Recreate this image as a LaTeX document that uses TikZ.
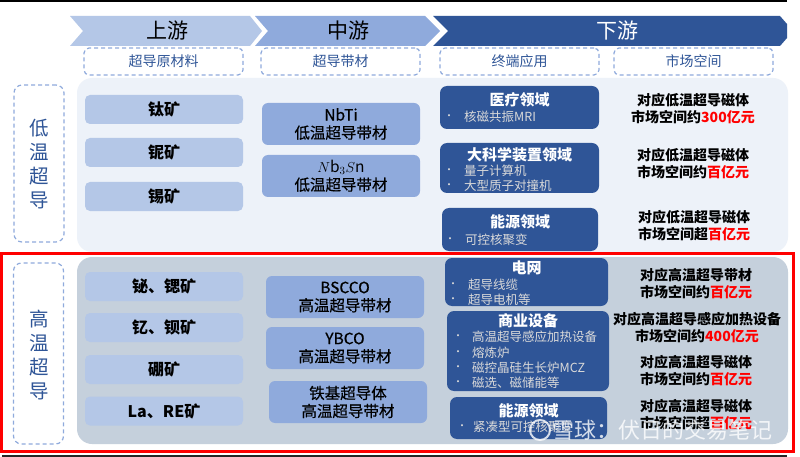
\documentclass[tikz,border=0pt]{standalone}
\usepackage{fontspec}
\setmainfont{Noto Sans CJK SC}
\newfontfamily\medfont[FakeBold=0.6]{Noto Sans CJK SC}
\definecolor{upc}{HTML}{B4C7E7}
\definecolor{midc}{HTML}{8FAADC}
\definecolor{dnc}{HTML}{2F5597}
\definecolor{lowbg}{HTML}{EDF2F9}
\definecolor{highbg}{HTML}{C5D0DC}
\definecolor{hdtext}{HTML}{2F5597}
\definecolor{bulc}{HTML}{D9D9D9}
\definecolor{redc}{HTML}{FF0000}
\tikzset{
 hdbox/.style={draw=midc, dash pattern=on 4pt off 3pt, line width=1.2pt, rounded corners=5pt, minimum width=159pt, minimum height=27pt, inner sep=0pt, font=\fontsize{14}{16}\selectfont, text=hdtext},
 sidebox/.style={draw=midc, dash pattern=on 4pt off 3pt, line width=1.2pt, rounded corners=8pt, minimum width=50pt, inner sep=0pt},
 sidetext/.style={align=center, text=hdtext, font=\fontsize{19.5}{24}\selectfont, inner sep=0pt},
 rawbox/.style={fill=upc, rounded corners=5pt, minimum width=158pt, minimum height=29pt, inner sep=0pt, font=\fontsize{16}{18}\selectfont\bfseries},
 midbox/.style={fill=midc, rounded corners=6pt, minimum width=158pt, minimum height=42pt, inner sep=0pt, align=center, font=\fontsize{15.5}{18}\selectfont\medfont},
 darkbox/.style={fill=dnc, rounded corners=7pt, inner sep=0pt},
 dtitle/.style={text=white, font=\fontsize{15}{17}\selectfont\bfseries, inner sep=0pt},
 dbul/.style={text=bulc, font=\fontsize{12.5}{14}\selectfont, inner sep=0pt, anchor=west},
 ddot/.style={text=bulc, font=\fontsize{10}{12}\selectfont, inner sep=0pt},
 mkt/.style={align=center, font=\fontsize{14}{17}\selectfont\bfseries, inner sep=0pt},
 chev/.style={font=\fontsize{21}{23}\selectfont, inner sep=0pt},
}
\newcommand{\rd}[1]{\textcolor{redc}{#1}}
\begin{document}
\begin{tikzpicture}[x=1pt,y=-1pt]
\useasboundingbox (0,0) rectangle (800,457);
\fill[white] (0,0) rectangle (800,457);
% top and bottom rules
\draw[line width=1.5pt, black] (0,0.8) -- (787,0.8);
\draw[line width=2pt, black!85] (2,455.8) -- (787,455.8);

% chevrons
\fill[upc] (70,16) -- (250,16) -- (262,31) -- (250,46) -- (70,46) -- (83,31) -- cycle;
\fill[midc] (255,16) -- (425,16) -- (440,31) -- (425,46) -- (255,46) -- (268,31) -- cycle;
\fill[dnc] (433,16) -- (780,16) -- (787,24) -- (787,38) -- (780,46) -- (433,46) -- (448,31) -- cycle;
\node[chev] (up) at (167,31) {上游};
\node[chev] (mid) at (348,31) {中游};
\node[chev, text=white] (dn) at (617,31) {下游};

% header dashed boxes
\node[hdbox] (h1) at (163.5,61.5) {超导原材料};
\node[hdbox] (h2) at (340.5,61.5) {超导带材};
\node[hdbox] (h3) at (519.5,61.5) {终端应用};
\node[hdbox] (h4) at (693.5,61.5) {市场空间};

% panels
\fill[lowbg, rounded corners=15pt] (77,78) rectangle (788,252);
\fill[highbg, rounded corners=15pt] (77,257) rectangle (788,444);

% side labels
\node[sidebox, minimum height=157pt] (sl) at (39,163.5) {};
\node[sidetext] (slt) at (39,164) {低\\温\\超\\导};
\node[sidebox, minimum height=181pt] (sh) at (38.5,353.5) {};
\node[sidetext] (sht) at (39,355) {高\\温\\超\\导};

% raw materials low
\node[rawbox] (r1) at (164,109.5) {钛矿};
\node[rawbox] (r2) at (164,152.5) {铌矿};
\node[rawbox] (r3) at (164,196.5) {锡矿};
% raw materials high
\node[rawbox] (r4) at (164,286.5) {铋、锶矿};
\node[rawbox] (r5) at (164,327.5) {钇、钡矿};
\node[rawbox] (r6) at (164,369.5) {硼矿};
\node[rawbox] (r7) at (164,411) {La、RE矿};

% middle low
\node[midbox] (m1) at (341,124) {NbTi\\低温超导带材};
\node[midbox] (m2) at (341,176) {$N\mathrm{b}_3S\mathrm{n}$\\低温超导带材};
% middle high
\node[midbox] (m3) at (345,297) {BSCCO\\高温超导带材};
\node[midbox] (m4) at (345,348) {YBCO\\高温超导带材};
\node[midbox] (m5) at (348,402) {铁基超导体\\高温超导带材};

% downstream dark boxes low
\node[darkbox, minimum width=159pt, minimum height=43pt] (d1) at (519.5,107.5) {};
\node[dtitle] (d1t) at (519.5,100) {医疗领域};
\node[ddot] (d1a) at (449,117) {•};
\node[dbul] (d1b) at (464,117) {核磁共振MRI};

\node[darkbox, minimum width=159pt, minimum height=50pt] (d2) at (519.5,168) {};
\node[dtitle] (d2t) at (519.5,155) {大科学装置领域};
\node[ddot] (d2a) at (449,171) {•};
\node[dbul] (d2b) at (464,171) {量子计算机};
\node[ddot] (d2c) at (449,186) {•};
\node[dbul] (d2d) at (464,186) {大型质子对撞机};

\node[darkbox, minimum width=156pt, minimum height=43pt] (d3) at (520,229.5) {};
\node[dtitle] (d3t) at (520,222) {能源领域};
\node[ddot] (d3a) at (450,240) {•};
\node[dbul] (d3b) at (465,240) {可控核聚变};

% downstream dark boxes high
\node[darkbox, minimum width=163pt, minimum height=48pt] (d4) at (526.5,282) {};
\node[dtitle] (d4t) at (526.5,268) {电网};
\node[ddot] (d4a) at (453,285) {•};
\node[dbul] (d4b) at (468,285) {超导线缆};
\node[ddot] (d4c) at (453,300) {•};
\node[dbul] (d4d) at (468,300) {超导电机等};

\node[darkbox, minimum width=162pt, minimum height=80pt] (d5) at (528,351) {};
\node[dtitle] (d5t) at (528,321) {商业设备};
\node[ddot] (d5a) at (458,337) {•};
\node[dbul] (d5b) at (472,337) {高温超导感应加热设备};
\node[ddot] (d5c) at (458,353) {•};
\node[dbul] (d5d) at (472,353) {熔炼炉};
\node[ddot] (d5e) at (458,368) {•};
\node[dbul] (d5f) at (472,368) {磁控晶硅生长炉MCZ};
\node[ddot] (d5g) at (458,383) {•};
\node[dbul] (d5h) at (472,383) {磁选、磁储能等};

\node[darkbox, minimum width=157pt, minimum height=42pt] (d6) at (528.5,418) {};
\node[dtitle] (d6t) at (528.5,411) {能源领域};
\node[ddot] (d6a) at (462,427) {•};
\node[dbul] (d6b) at (473,427) {紧凑型可控核聚变};

% market texts
\node[mkt] (k1) at (693,108.5) {对应低温超导磁体\\市场空间约\rd{300亿元}};
\node[mkt] (k2) at (693,164) {对应低温超导磁体\\市场空间约\rd{百亿元}};
\node[mkt] (k3) at (694,226) {对应低温超导磁体\\市场空间超\rd{百亿元}};
\node[mkt] (k4) at (696,284) {对应高温超导带材\\市场空间约\rd{百亿元}};
\node[mkt] (k5) at (697,328) {对应高温超导感应加热设备\\市场空间约\rd{400亿元}};
\node[mkt] (k6) at (696,371) {对应高温超导磁体\\市场空间约\rd{百亿元}};
\node[mkt] (k7) at (696,414.5) {对应高温超导磁体\\市场空间超\rd{百亿元}};

% red frame
\draw[redc, line width=3pt] (1.5,253.5) rectangle (793.5,451.5);

% watermark
\draw[white, opacity=0.8, line width=2pt] (540,430) circle (10pt);
\node[anchor=west, text=white, opacity=0.8, font=\fontsize{22}{24}\selectfont, inner sep=0pt] (wm) at (552,430) {雪球：伏日的交易笔记};
\end{tikzpicture}
\end{document}
